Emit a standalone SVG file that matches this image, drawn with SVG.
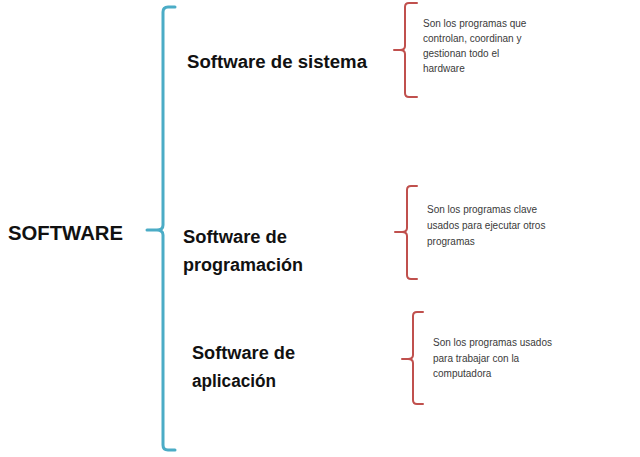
<svg xmlns="http://www.w3.org/2000/svg" width="640" height="457" viewBox="0 0 640 457">
<style>
.bg{fill:#ffffff}
.blue{fill:none;stroke:#4BACC6;stroke-width:3;stroke-linecap:round;stroke-linejoin:round}
.red{fill:none;stroke:#C0504D;stroke-width:2;stroke-linecap:round;stroke-linejoin:round}
.main{font-family:"Liberation Sans",Arial,sans-serif;font-weight:bold;fill:#111111}
.big{font-size:20px}
.mid{font-size:17.5px}
.small{font-family:"Liberation Sans",Arial,sans-serif;font-size:10px;fill:#3a3a3a}
</style>
<rect class="bg" x="0" y="0" width="640" height="457"/>
<g id="connectors">
<path class="blue" d="M175,7 L168,7 Q163,7 163,12 L163,225 Q163,230 157,230 L147,230 L157,230 Q163,230 163,235 L163,445 Q163,450 168,450 L175,450"/>
<path class="red" d="M417,3 L409,3 Q405,3 405,7 L405,46 Q405,50 400,50 L394,50 L400,50 Q405,50 405,54 L405,93 Q405,97 409,97 L417,97"/>
<path class="red" d="M417,186 L411,186 Q407,186 407,190 L407,228 Q407,232 402,232 L395,232 L402,232 Q407,232 407,236 L407,275 Q407,279 411,279 L417,279"/>
<path class="red" d="M423,312 L417,312 Q413,312 413,316 L413,355 Q413,359 408,359 L402,359 L408,359 Q413,359 413,363 L413,400 Q413,404 417,404 L423,404"/>
</g>
<g id="software">
<text class="main big" x="8" y="240" textLength="115" lengthAdjust="spacingAndGlyphs">SOFTWARE</text>
</g>
<g id="sistema">
<text class="main mid" x="187" y="68" textLength="180" lengthAdjust="spacingAndGlyphs">Software de sistema</text>
</g>
<g id="programacion">
<text class="main mid" x="183" y="243" textLength="104" lengthAdjust="spacingAndGlyphs">Software de</text>
<text class="main mid" x="183" y="271" textLength="120" lengthAdjust="spacingAndGlyphs">programación</text>
</g>
<g id="aplicacion">
<text class="main mid" x="192" y="359" textLength="103" lengthAdjust="spacingAndGlyphs">Software de</text>
<text class="main mid" x="192" y="387" textLength="84" lengthAdjust="spacingAndGlyphs">aplicación</text>
</g>
<g id="desc-sistema">
<text class="small" x="423" y="27">Son los programas que</text>
<text class="small" x="423" y="42">controlan, coordinan y</text>
<text class="small" x="423" y="57">gestionan todo el</text>
<text class="small" x="423" y="72">hardware</text>
</g>
<g id="desc-programacion">
<text class="small" x="427" y="213">Son los programas clave</text>
<text class="small" x="427" y="229">usados para ejecutar otros</text>
<text class="small" x="427" y="245">programas</text>
</g>
<g id="desc-aplicacion">
<text class="small" x="433" y="346">Son los programas usados</text>
<text class="small" x="433" y="362">para trabajar con la</text>
<text class="small" x="433" y="377">computadora</text>
</g>
</svg>
